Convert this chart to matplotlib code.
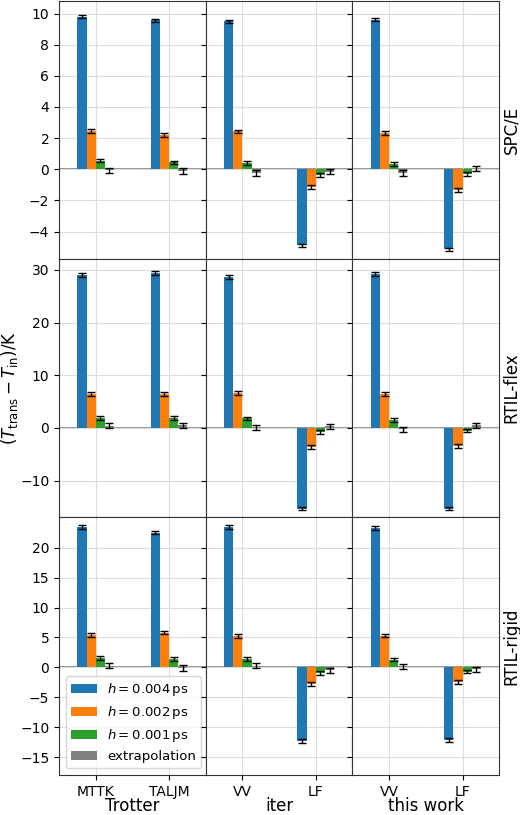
import numpy as np
import matplotlib.pyplot as plt

groups = ["Trotter", "iter", "this work"]
methods = [["MTTK", "TALJM"], ["VV", "LF"], ["VV", "LF"]]
systems = ["SPC/E", "RTIL-flex", "RTIL-rigid"]
step_labels = [r"$h = 0.004\,\mathrm{ps}$", r"$h = 0.002\,\mathrm{ps}$",
               r"$h = 0.001\,\mathrm{ps}$", "extrapolation"]
colors = ["tab:blue", "tab:orange", "tab:green", "tab:gray"]

# order: MTTK, TALJM, iter VV, iter LF, this-work VV, this-work LF
spce_h004 = [9.81, 9.58, 9.51, -4.89, 9.60, -5.14]
spce_h002 = [2.46, 2.20, 2.43, -1.13, 2.31, -1.34]
spce_h001 = [0.56, 0.44, 0.42, -0.36, 0.34, -0.30]
spce_extr = [-0.07, -0.11, -0.26, -0.15, -0.26, 0.04]
spce_err = [0.10, 0.12, 0.12, 0.18]

flex_h004 = [29.0, 29.4, 28.7, -15.3, 29.2, -15.3]
flex_h002 = [6.5, 6.5, 6.7, -3.6, 6.45, -3.4]
flex_h001 = [1.85, 1.9, 1.8, -0.75, 1.45, -0.5]
flex_extr = [0.4, 0.5, 0.15, 0.3, -0.25, 0.5]
flex_err = [0.35, 0.35, 0.35, 0.5]

rigid_h004 = [23.4, 22.5, 23.4, -12.3, 23.3, -12.1]
rigid_h002 = [5.42, 5.8, 5.26, -2.8, 5.3, -2.4]
rigid_h001 = [1.55, 1.4, 1.4, -0.95, 1.3, -0.7]
rigid_extr = [0.3, -0.1, 0.3, -0.5, 0.2, -0.3]
rigid_err = [0.3, 0.3, 0.3, 0.45]

data = [
    ([spce_h004, spce_h002, spce_h001, spce_extr], spce_err),
    ([flex_h004, flex_h002, flex_h001, flex_extr], flex_err),
    ([rigid_h004, rigid_h002, rigid_h001, rigid_extr], rigid_err),
]
ylims = [(-5.76, 10.82), (-16.9, 32.1), (-17.95, 25.1)]
yticks = [np.arange(-4, 11, 2), np.arange(-10, 31, 10), np.arange(-15, 21, 5)]

fig, axes = plt.subplots(3, 3, figsize=(5.2, 8.15), dpi=100,
                         sharex="col", sharey="row")
fig.subplots_adjust(left=0.1135, right=0.96, top=0.999, bottom=0.049,
                    wspace=0, hspace=0)

width = 0.125
offsets = [-1.5 * width, -0.5 * width, 0.5 * width, 1.5 * width]
x = np.arange(2)

for r in range(3):
    series, errs = data[r]
    for c in range(3):
        ax = axes[r, c]
        ax.grid(True, color="#dcdcdc", lw=0.8, zorder=0)
        ax.axhline(0, color="gray", lw=1.2, zorder=1)
        for k in range(4):
            vals = series[k][2 * c:2 * c + 2]
            ax.bar(x + offsets[k], vals, width, color=colors[k],
                   yerr=errs[k], capsize=3,
                   error_kw=dict(ecolor="black", elinewidth=1, capthick=1),
                   label=step_labels[k], zorder=2)
        ax.set_xlim(-0.5, 1.5)
        ax.set_ylim(*ylims[r])
        ax.set_yticks(yticks[r])
        ax.set_xticks(x)
        ax.set_xticklabels(methods[c])
        ax.tick_params(labelsize=10)
        for s in ax.spines.values():
            s.set_color("#333333")
        if r == 2:
            ax.set_xlabel(groups[c], fontsize=12, labelpad=-1)
        if c == 2:
            ax.yaxis.set_label_position("right")
            ax.set_ylabel(systems[r], fontsize=12, labelpad=2)

axes[2, 0].legend(loc="lower left", fontsize=9.5, labelspacing=0.45,
                  handlelength=2.0, handletextpad=0.75)
fig.text(0.018, 0.524, r"$(T_\mathrm{trans} - T_\mathrm{in})/\mathrm{K}$",
         rotation=90, va="center", ha="center", fontsize=12)

fig.savefig("out.png", dpi=100)
